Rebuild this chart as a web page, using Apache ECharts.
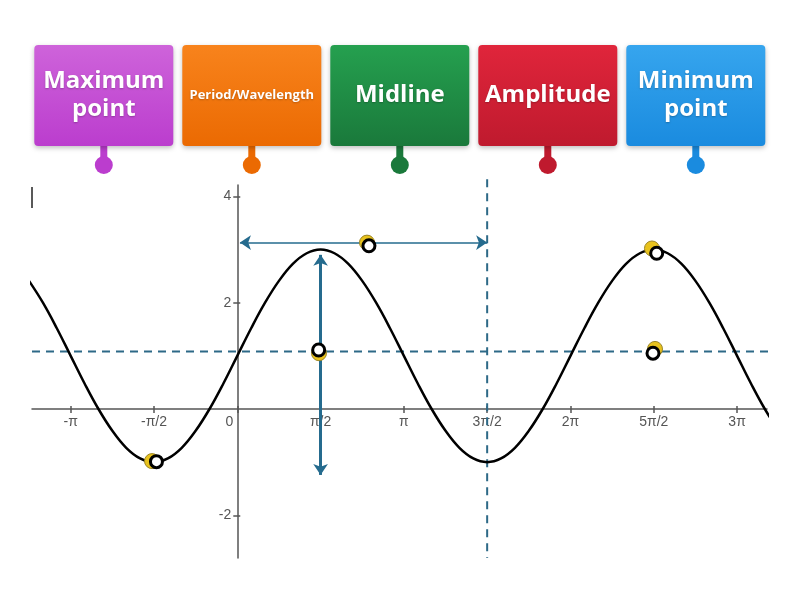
<!DOCTYPE html>
<html>
<head>
<meta charset="utf-8">
<script src="https://cdn.jsdelivr.net/npm/echarts@6/dist/echarts.min.js"></script>
<style>
  html, body { margin: 0; padding: 0; background: #fff; }
  #chart { width: 800px; height: 600px; }
</style>
</head>
<body>
<div id="chart"></div>
<script>
// ---------- data ----------
const boxLabels = ['Maximum\npoint', 'Period/Wavelength', 'Midline', 'Amplitude', 'Minimum\npoint'];

const xTickPi = [-1, -0.5, 0, 0.5, 1, 1.5, 2, 2.5, 3];
const xTickLabels = ['-π', '-π/2', '0', 'π/2', 'π', '3π/2', '2π', '5π/2', '3π'];
const yTicks = [-2, 2, 4];
const xRange = [-3.871, 9.989];
const yRange = [-2.803, 4.214];

// curve samples: x in units of π/12, y
const curveXPi12 = [-15, -14, -13, -12, -11, -10, -9, -8, -7, -6, -5, -4, -3, -2, -1,
  0, 1, 2, 3, 4, 5, 6, 7, 8, 9, 10, 11, 12, 13, 14, 15, 16, 17, 18, 19, 20,
  21, 22, 23, 24, 25, 26, 27, 28, 29, 30, 31, 32, 33, 34, 35, 36, 37, 38, 39];
const curveY = [2.41, 2.00, 1.52, 1.00, 0.48, 0.00, -0.41, -0.73, -0.93, -1.00, -0.93, -0.73, -0.41, 0.00, 0.48,
  1.00, 1.52, 2.00, 2.41, 2.73, 2.93, 3.00, 2.93, 2.73, 2.41, 2.00, 1.52, 1.00, 0.48, 0.00, -0.41, -0.73, -0.93, -1.00, -0.93, -0.73,
  -0.41, 0.00, 0.48, 1.00, 1.52, 2.00, 2.41, 2.73, 2.93, 3.00, 2.93, 2.73, 2.41, 2.00, 1.52, 1.00, 0.48, 0.00, -0.41];

const midlineY = 1.08;
const midlineX = [-3.871, 10.55];
const verticalDashX = 4.712;
const verticalDashY = [4.32, -2.803];
const periodArrowX = [0.05, 4.712];
const periodArrowY = 3.13;
const amplitudeArrowX = 1.571;
const amplitudeArrowY = [2.90, -1.24];

const yellowTargets = [[2.446, 3.13], [1.541, 1.05], [-1.608, -0.98], [7.82, 3.02], [7.877, 1.13]];
const ringTargets = [[2.483, 3.07], [1.535, 1.11], [-1.524, -0.99], [7.909, 2.93], [7.839, 1.05]];

// ---------- styles ----------
const boxStyles = [
  { top: '#ce63da', bottom: '#bb3dce', size: 24 },
  { top: '#f8831c', bottom: '#eb6a02', size: 13 },
  { top: '#25a04f', bottom: '#1a793b', size: 24 },
  { top: '#e0253b', bottom: '#bf1a2e', size: 24 },
  { top: '#36a5ee', bottom: '#1a8bdf', size: 24 }
];
const dashColor = '#2d6987';
const arrowColor = '#256b8e';
const axisColor = '#555';
const labelColor = '#555';
const labelFont = 'Liberation Sans, Arial, sans-serif';

// grid geometry (pixels)
const gridBox = { left: 32, right: 33, top: 185, bottom: 42 };
const W = 800, H = 600;

// ---------- build ----------
const curveData = curveXPi12.map((k, i) => [k * Math.PI / 12, curveY[i]]);
const xTickValues = xTickPi.map(m => m * Math.PI);

// pixel position of the zero lines, derived from the axis ranges
const plotW = W - gridBox.left - gridBox.right;
const plotH = H - gridBox.top - gridBox.bottom;
const zeroXpx = gridBox.left + (0 - xRange[0]) / (xRange[1] - xRange[0]) * plotW;
const zeroYpx = gridBox.top + (yRange[1] - 0) / (yRange[1] - yRange[0]) * plotH;
const offBottom = -((H - gridBox.bottom) - zeroYpx);
const offTop = -(zeroYpx - gridBox.top);
const offLeft = -(zeroXpx - gridBox.left);
const offRight = -((W - gridBox.right) - zeroXpx);

function xLabel(v) {
  for (let i = 0; i < xTickValues.length; i++) {
    if (Math.abs(v - xTickValues[i]) < 1e-6) {
      return xTickLabels[i] === '0' ? '{z|0}' : xTickLabels[i];
    }
  }
  return '';
}

const graphics = [];
boxLabels.forEach((lab, i) => {
  const st = boxStyles[i];
  const x0 = 34.3 + 148 * i;
  const cx = x0 + 69.5;
  graphics.push({
    type: 'rect', shape: { x: cx - 3.5, y: 140, width: 7, height: 24 },
    style: { fill: st.bottom }, z: 10
  });
  graphics.push({
    type: 'circle', shape: { cx: cx, cy: 165, r: 9 },
    style: { fill: st.bottom }, z: 10
  });
  graphics.push({
    type: 'rect', shape: { x: x0, y: 45, width: 139, height: 101, r: 4 },
    style: {
      fill: new echarts.graphic.LinearGradient(0, 0, 0, 1, [
        { offset: 0, color: st.top }, { offset: 1, color: st.bottom }
      ]),
      shadowBlur: 5, shadowOffsetY: 2, shadowColor: 'rgba(0,0,0,0.25)'
    }, z: 11
  });
  graphics.push({
    type: 'text', x: cx, y: 95,
    style: {
      text: lab, fill: '#fff', fontSize: st.size, fontWeight: 'bold',
      fontFamily: 'Open Sans, Noto Sans, sans-serif',
      lineHeight: 28, align: 'center', verticalAlign: 'middle',
      textShadowColor: 'rgba(0,0,0,0.25)', textShadowBlur: 2, textShadowOffsetY: 1
    }, z: 12
  });
});
// text cursor at top-left of graph
graphics.push({
  type: 'line', shape: { x1: 32, y1: 187, x2: 32, y2: 208 },
  style: { stroke: '#222', lineWidth: 1.5 }, z: 12
});

const baseX = {
  type: 'value', min: xRange[0], max: xRange[1],
  splitLine: { show: false }
};
const baseY = {
  type: 'value', min: yRange[0], max: yRange[1],
  splitLine: { show: false }
};

const option = {
  animation: false,
  backgroundColor: '#fff',
  grid: Object.assign({ containLabel: false, outerBoundsMode: 'none' }, gridBox),
  graphic: graphics,
  xAxis: [
    Object.assign({}, baseX, {
      position: 'bottom', offset: offBottom,
      axisLine: { show: true, onZero: false, lineStyle: { color: axisColor, width: 1.5 } },
      axisTick: { show: true, length: 4, customValues: xTickValues, lineStyle: { color: axisColor, width: 1.5 } },
      axisLabel: {
        show: true, customValues: xTickValues, margin: 6,
        color: labelColor, fontSize: 14, fontFamily: labelFont,
        formatter: xLabel,
        rich: { z: { padding: [0, 16, 0, 0], color: labelColor, fontSize: 14, fontFamily: labelFont } }
      }
    }),
    Object.assign({}, baseX, {
      position: 'top', offset: offTop,
      axisLine: { show: false, onZero: false },
      axisTick: { show: true, length: 3, customValues: xTickValues, lineStyle: { color: axisColor, width: 1.5 } },
      axisLabel: { show: false }
    })
  ],
  yAxis: [
    Object.assign({}, baseY, {
      position: 'left', offset: offLeft,
      axisLine: { show: true, onZero: false, lineStyle: { color: axisColor, width: 1.5 } },
      axisTick: { show: true, length: 4, customValues: yTicks, lineStyle: { color: axisColor, width: 1.5 } },
      axisLabel: {
        show: true, customValues: yTicks, margin: 6,
        color: labelColor, fontSize: 14, fontFamily: labelFont
      }
    }),
    Object.assign({}, baseY, {
      position: 'right', offset: offRight,
      axisLine: { show: false, onZero: false },
      axisTick: { show: true, length: 3, customValues: yTicks, lineStyle: { color: axisColor, width: 1.5 } },
      axisLabel: { show: false }
    })
  ],
  series: [
    {
      type: 'line', name: 'midline', clip: false, silent: true,
      data: [[midlineX[0], midlineY], [midlineX[1], midlineY]],
      showSymbol: false, symbol: 'none',
      lineStyle: { color: dashColor, width: 2, type: [8, 6] }, z: 3
    },
    {
      type: 'line', name: 'vdash', clip: false, silent: true,
      data: [[verticalDashX, verticalDashY[0]], [verticalDashX, verticalDashY[1]]],
      showSymbol: false, symbol: 'none',
      lineStyle: { color: dashColor, width: 2, type: [8, 6] }, z: 3
    },
    {
      type: 'line', name: 'curve', clip: true, silent: true,
      data: curveData, smooth: 0.4,
      showSymbol: false, symbol: 'none',
      lineStyle: { color: '#000', width: 2.5 }, z: 4
    },
    {
      type: 'line', name: 'arrows', data: [], silent: true,
      markLine: {
        silent: true, animation: false,
        symbol: ['arrow', 'arrow'], symbolSize: 11,
        label: { show: false },
        emphasis: { disabled: true },
        data: [
          [
            { coord: [periodArrowX[0], periodArrowY], lineStyle: { color: arrowColor, width: 1.5, type: 'solid' } },
            { coord: [periodArrowX[1], periodArrowY] }
          ],
          [
            { coord: [amplitudeArrowX, amplitudeArrowY[0]], lineStyle: { color: arrowColor, width: 3, type: 'solid' } },
            { coord: [amplitudeArrowX, amplitudeArrowY[1]] }
          ]
        ]
      }, z: 5
    },
    {
      type: 'scatter', name: 'yellow', silent: true,
      data: yellowTargets, symbolSize: 15,
      itemStyle: { color: '#e8c21d', borderColor: '#9c8628', borderWidth: 1, opacity: 1 }, z: 6
    },
    {
      type: 'scatter', name: 'ring', silent: true,
      data: ringTargets, symbolSize: 12,
      itemStyle: { color: '#fff', borderColor: '#000', borderWidth: 3, opacity: 1 }, z: 7
    }
  ]
};

const chart = echarts.init(document.getElementById('chart'), null, { renderer: 'canvas' });
chart.setOption(option);
</script>
</body>
</html>
